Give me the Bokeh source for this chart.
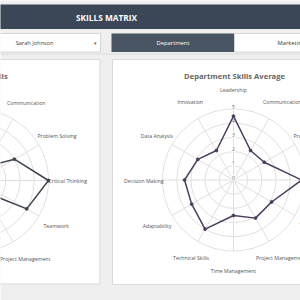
import numpy as np
from bokeh.plotting import figure
from bokeh.models import Range1d
from bokeh.core.properties import value
from bokeh.embed import file_html
from bokeh.resources import INLINE

# ---------------- data ----------------
skills = ["Leadership", "Communication", "Problem Solving", "Critical Thinking",
          "Teamwork", "Project Management", "Time Management", "Technical Skills",
          "Adaptability", "Decision Making", "Data Analysis", "Innovation"]
employee_scores = [3.5, 1.1, 3.0, 5.0, 4.0, 0.9, 2.5, 3.0, 3.5, 4.0, 2.0, 3.0]
department_avg = [4.5, 2.4, 2.5, 4.8, 3.1, 3.1, 2.5, 4.0, 3.4, 3.45, 2.9, 2.4]
tick_values = [0, 1, 2, 3, 4, 5]
tick_labels = ["0", "1", "2", "3", "4", "5"]
employee_name = "Sarah Johnson"
view_mode = "Department"
department = "Marketing"
header_title = "SKILLS MATRIX"
left_title = "Employee Skills"
right_title = "Department Skills Average"

# ---------------- layout / style ----------------
W, H = 300, 300
FONT = "Open Sans"
BG = "#efefef"
R = 71.0
SCALE_MAX = 5.0
# label anchor offsets (dx, dy, align) for each of the 12 spokes
label_layout = [(0, -90.5, "center"), (29.5, -78, "left"), (60, -44.5, "left"),
                (71, 0, "left"), (66, 45, "left"), (22.5, 78, "left"),
                (0, 91, "center"), (-24.5, 78, "right"), (-62, 45.5, "right"),
                (-70, 0.5, "right"), (-60.5, -44.5, "right"), (-30.5, -78, "right")]
LABEL_PX_PER_CHAR = 2.9

p = figure(width=W, height=H, x_range=Range1d(0, W), y_range=Range1d(H, 0),
           output_backend="svg", toolbar_location=None, min_border=0,
           background_fill_color=BG, border_fill_color=BG)
p.axis.visible = False
p.grid.visible = False
p.outline_line_color = None


def txt(x, y, s, size, color, align="center", bold=False, base="middle"):
    p.text(x=[x], y=[y], text=[s], text_font=value(FONT), text_font_size=size,
           text_color=color, text_align=align, text_baseline=base,
           text_font_style="bold" if bold else "normal")


def visible(x, s, align):
    w = len(s) * LABEL_PX_PER_CHAR
    right = x if align == "right" else (x + w / 2 if align == "center" else x + w)
    return right > 0


# header bar
p.quad(left=[-5], right=[W + 5], top=[4], bottom=[28.5], fill_color="#3b4656", line_color=None)
txt(106, 16.5, header_title, "8.3px", "white", bold=True)

# control row
p.quad(left=[-5], right=[100], top=[33], bottom=[51.5], fill_color="white", line_color="#d6d6d6", line_width=1)
txt(34, 42.3, employee_name, "5.6px", "#444444")
txt(95, 42, "▾", "5px", "#666666")
p.quad(left=[111], right=[234], top=[33], bottom=[51.5], fill_color="#4a5563", line_color=None)
txt(172.5, 42.3, view_mode, "5.8px", "white")
p.quad(left=[234], right=[W + 5], top=[33], bottom=[51.5], fill_color="white", line_color="#d6d6d6", line_width=1)
txt(277, 42.3, department, "5.8px", "#333333", align="left")

# separator line under controls
p.segment(x0=[-5], y0=[53.5], x1=[W + 5], y1=[53.5], line_color="#dcdcdc", line_width=1)

# panels
p.quad(left=[-5], right=[99.5], top=[59], bottom=[283.5], fill_color="white", line_color="#d9d9d9", line_width=1)
p.quad(left=[112], right=[W + 5], top=[59], bottom=[284], fill_color="white", line_color="#d9d9d9", line_width=1)


def radar(cx, cy, scores, color, title, show_ticks):
    n = len(skills)
    ang = np.arange(n) * 2 * np.pi / n
    unit = R / SCALE_MAX
    # rings
    for t in tick_values[1:]:
        p.circle(x=[cx], y=[cy], radius=t * unit, fill_color=None,
                 line_color="#e0e0e0", line_width=1)
    # spokes
    p.segment(x0=[cx] * n, y0=[cy] * n,
              x1=list(cx + R * np.sin(ang)), y1=list(cy - R * np.cos(ang)),
              line_color="#e0e0e0", line_width=1)
    # point labels (only those that reach into the window)
    for s, (dx, dy, al) in zip(skills, label_layout):
        if visible(cx + dx, s, al):
            txt(cx + dx, cy + dy, s, "5.2px", "#555555", align=al)
    # ticks
    if show_ticks:
        for t, lab in zip(tick_values, tick_labels):
            y = cy - t * unit - 2.5
            p.quad(left=[cx - 2.2], right=[cx + 2.2], top=[y - 3], bottom=[y + 3],
                   fill_color="white", line_color=None)
            txt(cx, y, lab, "5px", "#666666")
    # data
    sc = np.array(scores, dtype=float)
    xs = cx + sc * unit * np.sin(ang)
    ys = cy - sc * unit * np.cos(ang)
    p.line(x=list(xs) + [xs[0]], y=list(ys) + [ys[0]], line_color=color, line_width=1.5)
    p.scatter(x=list(xs), y=list(ys), size=2.8, fill_color=color, line_color=color)
    txt(cx + 1, 75.7, title, "7.6px", "#666666", bold=True)


radar(-23, 180, employee_scores, "#3d4450", left_title, False)
radar(233, 179.5, department_avg, "#4d3d5e", right_title, True)

open("out.html", "w").write(file_html(p, INLINE))
